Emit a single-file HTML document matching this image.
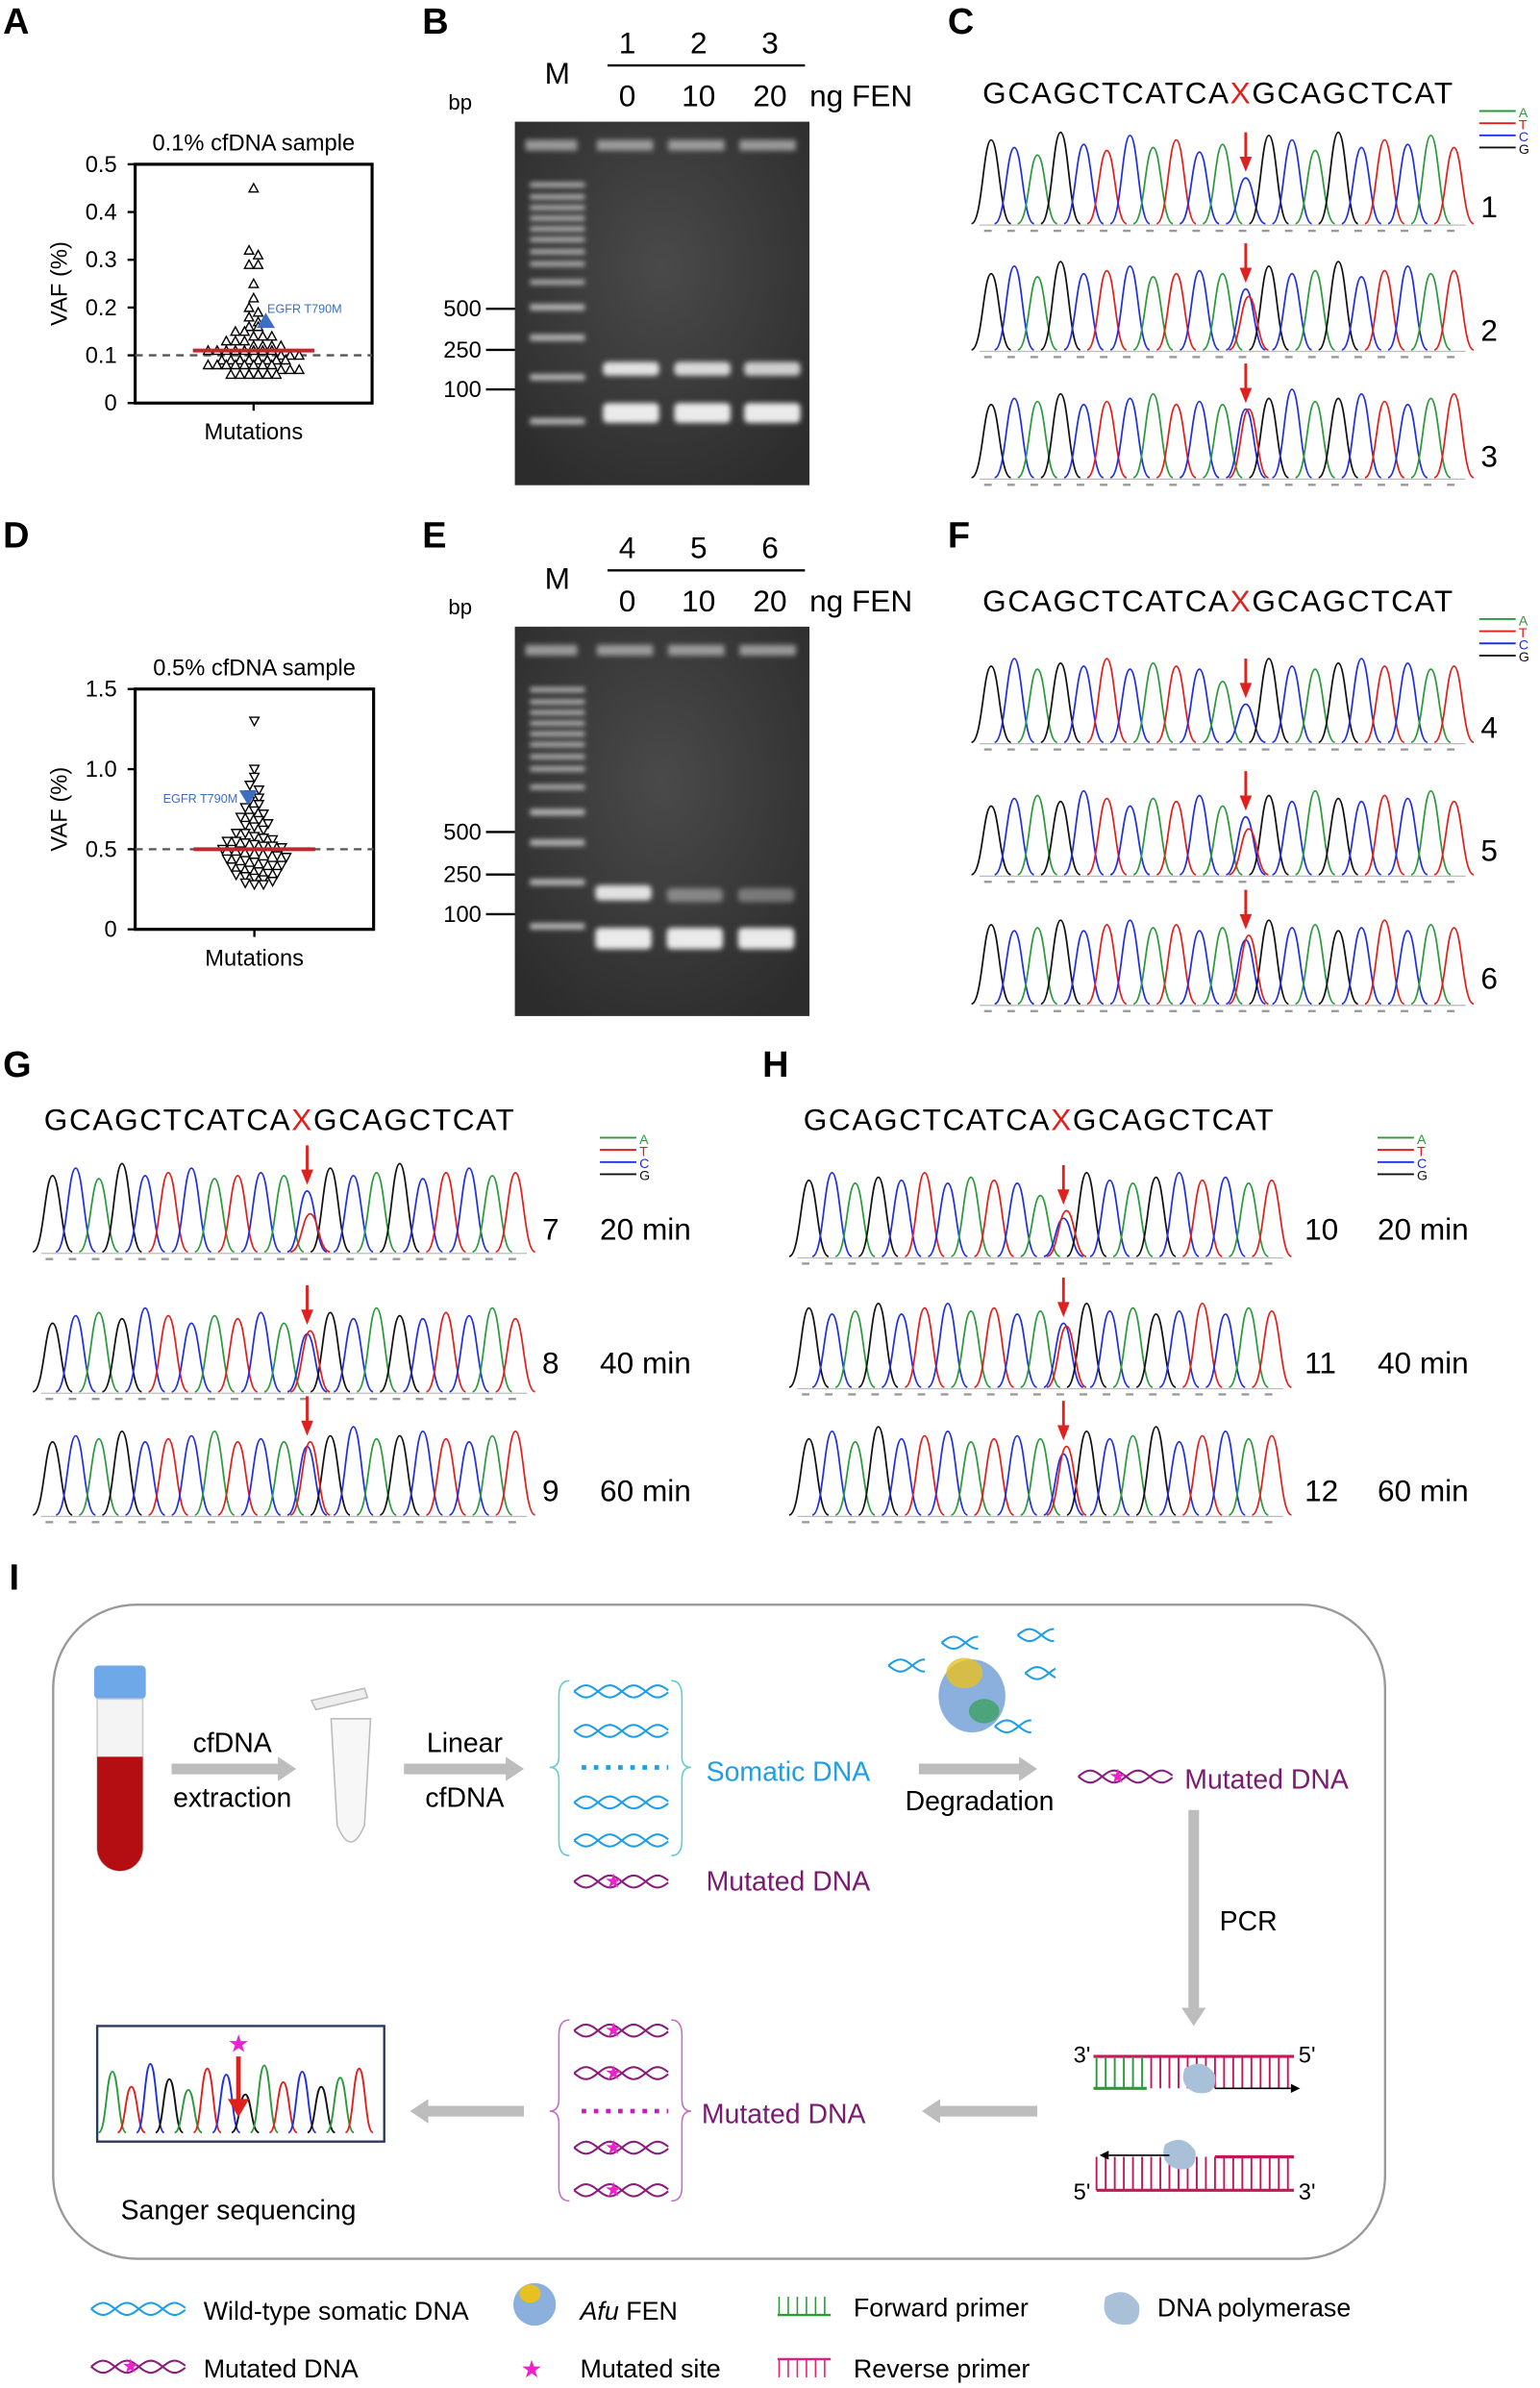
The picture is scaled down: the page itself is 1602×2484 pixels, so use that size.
<!DOCTYPE html>
<html><head><meta charset="utf-8"><style>
html,body{margin:0;padding:0;background:#fff;}
svg{display:block;font-family:"Liberation Sans",Arial,sans-serif;}
</style></head><body>
<svg id="fig" width="1602" height="2484" viewBox="0 0 1014 1570" preserveAspectRatio="none" xmlns="http://www.w3.org/2000/svg">
<defs>
<filter id="blur" x="-20%" y="-100%" width="140%" height="300%"><feGaussianBlur stdDeviation="1.6"/></filter>
<radialGradient id="gelglow" cx="50%" cy="40%" r="70%"><stop offset="0" stop-color="#4a4a4a"/><stop offset="1" stop-color="#2c2c2c"/></radialGradient>
</defs>
<g id="root"></g>
</svg>
<script>
// ---------- DATA ----------
const vafA = [0.45,0.32,0.31,0.29,0.29,0.25,0.22,0.20,0.19,0.18,0.17,0.16,0.16,0.15,0.15,0.14,0.14,0.14,0.13,0.13,0.13,0.12,0.12,0.12,0.12,0.11,0.11,0.11,0.11,0.11,0.11,0.11,0.11,0.10,0.10,0.10,0.10,0.10,0.10,0.10,0.10,0.09,0.09,0.09,0.09,0.09,0.09,0.09,0.09,0.08,0.08,0.08,0.08,0.08,0.08,0.08,0.08,0.07,0.07,0.07,0.07,0.07,0.07,0.06,0.06,0.06,0.06,0.06,0.06];
const highlightA = 0.17;
const medianA = 0.11;
const ticksA = [0,0.1,0.2,0.3,0.4,0.5];
const vafD = [1.30,1.00,0.95,0.90,0.87,0.84,0.82,0.80,0.78,0.76,0.74,0.72,0.70,0.70,0.68,0.66,0.65,0.64,0.62,0.60,0.60,0.58,0.57,0.56,0.55,0.55,0.54,0.53,0.52,0.52,0.51,0.50,0.50,0.49,0.48,0.48,0.47,0.46,0.45,0.44,0.44,0.43,0.42,0.41,0.40,0.40,0.39,0.38,0.37,0.36,0.35,0.35,0.34,0.33,0.32,0.31,0.30,0.29,0.28,0.28];
const highlightD = 0.82;
const medianD = 0.50;
const ticksD = [0,0.5,1.0,1.5];
const bases = "GCAGCTCATCAYGCAGCTCAT".split("");
const traceC1 = [55,50,45,60,52,48,58,50,55,47,52,30,58,55,48,60,50,55,52,58,50];
const traceC2 = [50,55,48,58,50,52,55,48,50,52,50,40,55,50,52,58,48,52,55,50,52];
const traceC3 = [48,52,50,55,48,50,52,55,48,50,48,45,52,58,50,52,55,50,48,52,55];
const traceF1 = [50,55,48,52,50,55,48,52,50,48,40,25,55,50,48,52,55,50,52,48,50];
const traceF2 = [45,50,52,48,55,50,45,50,48,52,45,38,52,48,55,50,48,52,50,55,48];
const traceF3 = [52,48,50,55,48,52,55,50,52,48,50,42,55,50,52,48,50,55,48,52,50];
const mutT = {C1:0,C2:35,C3:45,F1:0,F2:30,F3:45,G1:25,G2:40,G3:48,H1:30,H2:40,H3:45};

const NS="http://www.w3.org/2000/svg";
const root=document.getElementById('root');
function el(tag,attrs,parent,text){const e=document.createElementNS(NS,tag);for(const k in attrs)e.setAttribute(k,attrs[k]);if(text!==undefined)e.textContent=text;(parent||root).appendChild(e);return e;}
function txt(x,y,s,size,opts){opts=opts||{};const t=el('text',{x:x,y:y,'font-size':size,fill:opts.fill||'#000','text-anchor':opts.anchor||'start','font-weight':opts.weight||'normal','font-style':opts.style||'normal'},opts.parent,s);return t;}

[['A',2,22],['B',278,22],['C',624,22],['D',2,360],['E',278,360],['F',624,360],['G',2,708],['H',502,708],['I',6,1045]].forEach(p=>{txt(p[1],p[2],p[0],24,{weight:'bold',name:'panel-label-'+p[0].toLowerCase()});});

// ---------- scatter ----------
function scatter(cfg){
  const g=el('g',{});
  const y=v=>cfg.y0-(v-cfg.min)/(cfg.max-cfg.min)*(cfg.y0-cfg.y1);
  el('rect',{x:cfg.x0,y:cfg.y1,width:cfg.x1-cfg.x0,height:cfg.y0-cfg.y1,fill:'none',stroke:'#000','stroke-width':2},g);
  txt((cfg.x0+cfg.x1)/2,cfg.y1-9,cfg.title,15,{anchor:'middle',parent:g,name:'chart-title'});
  cfg.ticks.forEach(t=>{
    const yy=y(t);
    el('line',{x1:cfg.x0-5,x2:cfg.x0,y1:yy,y2:yy,stroke:'#000','stroke-width':1.5},g);
    txt(cfg.x0-12,yy+5,cfg.fmt(t),15,{anchor:'end',parent:g,name:'y-tick-label'});
  });
  const mx=(cfg.x0+cfg.x1)/2;
  el('line',{x1:mx,x2:mx,y1:cfg.y0,y2:cfg.y0+5,stroke:'#000','stroke-width':1.5},g);
  txt(mx,cfg.y0+24,'Mutations',15,{anchor:'middle',parent:g,name:'x-axis-label'});
  const yt=txt(0,0,'VAF (%)',15,{anchor:'middle',parent:g,name:'y-axis-title'});
  yt.setAttribute('transform',`translate(${cfg.x0-45},${(cfg.y0+cfg.y1)/2}) rotate(-90)`);
  el('line',{x1:cfg.x0,x2:cfg.x1,y1:y(cfg.dash),y2:y(cfg.dash),stroke:'#555','stroke-width':1.5,'stroke-dasharray':'5,4'},g);
  const rows={};
  cfg.data.forEach(v=>{const k=Math.round(y(v)/5.5);(rows[k]=rows[k]||[]).push(v);});
  Object.keys(rows).forEach(k=>{
    const arr=rows[k];
    const per=11;
    arr.forEach((v,i)=>{
      const sub=Math.floor(i/per), idx=i%per;
      const n=Math.min(per,arr.length-sub*per);
      const off=(idx-(n-1)/2)*6+(sub%2?3:0);
      const cx=mx+off, cy=y(v)+sub*3;
      const pts=cfg.up?`${cx},${cy-3} ${cx-3},${cy+2.5} ${cx+3},${cy+2.5}`:`${cx},${cy+3} ${cx-3},${cy-2.5} ${cx+3},${cy-2.5}`;
      const p=el('polygon',{points:pts,fill:'#fff',stroke:'#000','stroke-width':0.9},g);
      
    });
  });
  el('line',{x1:mx-40,x2:mx+40,y1:y(cfg.median),y2:y(cfg.median),stroke:'#c0282d','stroke-width':2.5},g);
  const hy=y(cfg.hl);
  const hp=el('polygon',{points:cfg.up?`${mx+8},${hy-6} ${mx+2},${hy+4} ${mx+14},${hy+4}`:`${mx-4},${hy+5} ${mx-10},${hy-5} ${mx+2},${hy-5}`,fill:'#3c6fc2'},g);
  
  txt(cfg.up?mx+9:mx-11,hy+(cfg.up?-6:3),'EGFR T790M',8,{anchor:cfg.up?'start':'end',fill:'#3c6fc2',parent:g,name:'highlight-label'});
}
scatter({name:'scatter-a',x0:89,x1:245,y0:265,y1:108,min:0,max:0.5,ticks:ticksA,fmt:t=>String(t),data:vafA,median:medianA,hl:highlightA,dash:0.1,title:'0.1% cfDNA sample',up:true});
scatter({name:'scatter-d',x0:89,x1:246,y0:611,y1:453,min:0,max:1.5,ticks:ticksD,fmt:t=>t===0?'0':t.toFixed(1),data:vafD,median:medianD,hl:highlightD,dash:0.5,title:'0.5% cfDNA sample',up:false});

// ---------- gels ----------
function gel(cfg){
  const g=el('g',{});
  const x0=339,x1=533,y0=cfg.y0,y1=cfg.y1;
  el('rect',{x:x0,y:y0,width:x1-x0,height:y1-y0,fill:'url(#gelglow)'},g);
  [[346,380],[393,430],[440,477],[487,524]].forEach(w=>el('rect',{x:w[0],y:y0+12,width:w[1]-w[0],height:7,fill:'#bbb',opacity:0.75,filter:'url(#blur)'},g));
  [20,28,35,42,49,56,64,72,84,100,120,146,175].forEach((d,i)=>el('rect',{x:349,y:y0+d+20,width:36,height:i<9?3:4,fill:'#ddd',opacity:0.8,filter:'url(#blur)'},g));
  cfg.bands.forEach(b=>el('rect',{x:b[0],y:b[1],width:37,height:b[2],fill:'#f4f4f4',opacity:b[3],rx:3,filter:'url(#blur)'},g));
  txt(367,cfg.y0-25,'M',20,{anchor:'middle',parent:g,name:'marker-label'});
  txt(303,cfg.y0-8,'bp',14,{anchor:'middle',parent:g,name:'bp-label'});
  el('line',{x1:400,x2:530,y1:cfg.y0-37,y2:cfg.y0-37,stroke:'#000','stroke-width':1.5},g);
  cfg.nums.forEach((n,i)=>{txt(413+i*47,cfg.y0-45,n,20,{anchor:'middle',parent:g,name:'lane-number'});txt(413+i*47,cfg.y0-10,['0','10','20'][i],20,{anchor:'middle',parent:g,name:'lane-amount'});});
  txt(533,cfg.y0-10,'ng FEN',20,{parent:g,name:'fen-label'});
  cfg.sizes.forEach(s=>{txt(317,s[1]+5,s[0],15,{anchor:'end',parent:g,name:'size-label'});el('line',{x1:320,x2:339,y1:s[1],y2:s[1],stroke:'#000','stroke-width':1.5},g);});
}
gel({name:'gel-b',y0:80,y1:319,nums:['1','2','3'],sizes:[['500',203],['250',230],['100',256]],bands:[[397,238,9,0.9],[444,238,9,0.85],[490,238,9,0.8],[397,265,13,0.95],[444,265,13,0.95],[490,265,13,0.95]]});
gel({name:'gel-e',y0:412,y1:668,nums:['4','5','6'],sizes:[['500',547],['250',575],['100',601]],bands:[[392,582,10,0.9],[439,584,9,0.4],[486,584,9,0.35],[392,610,14,0.95],[439,610,14,0.95],[486,610,14,0.95]]});

// ---------- chromatograms ----------
const colorOf={A:'#2a9a3a',T:'#e0201c',C:'#2030e0',G:'#111',Y:'#2030e0'};
function peak(g,cx,base,h,w,col){
  el('path',{d:`M${cx-w} ${base} C${cx-w*0.45} ${base},${cx-w*0.4} ${base-h},${cx} ${base-h} C${cx+w*0.4} ${base-h},${cx+w*0.45} ${base},${cx+w} ${base}`,fill:'none',stroke:col,'stroke-width':1.1},g);
}
function trace(name,x0,x1,base,heights,mut){
  const g=el('g',{});
  const step=(x1-x0)/bases.length;
  bases.forEach((b,i)=>{const cx=x0+step*(i+0.5);peak(g,cx,base,heights[i],step*0.85,colorOf[b]);});
  const cxm=x0+step*11.5;
  if(mut>0)peak(g,cxm+2,base,mut,step*0.85,colorOf.T);
  el('line',{x1:x0,x2:x1,y1:base+1,y2:base+1,stroke:'#bbb','stroke-width':0.8},g);
  for(let i=0;i<bases.length;i++)el('rect',{x:x0+step*i+3,y:base+4,width:5,height:1.5,fill:'#999'},g);
  const top=base-Math.max(heights[11],mut)-30;
  el('line',{x1:cxm,x2:cxm,y1:top,y2:top+18,stroke:'#e0201c','stroke-width':1.8},g);
  el('polygon',{points:`${cxm-4},${top+16} ${cxm+4},${top+16} ${cxm},${top+26}`,fill:'#e0201c'},g);
}
function seqHeader(x0,x1,y,lgX){
  const t=el('text',{x:x0,y:y,'font-size':20,'letter-spacing':'1.5'});
  
  el('tspan',{},t,'GCAGCTCATCA');el('tspan',{fill:'#e0201c'},t,'X');el('tspan',{},t,'GCAGCTCAT');
  t.setAttribute('textLength',x1-x0);
  const g=el('g',{});
  [['A','#2a9a3a'],['T','#e0201c'],['C','#2030e0'],['G','#111']].forEach((l,i)=>{const yy=y+5+i*8;el('line',{x1:lgX,x2:lgX+24,y1:yy,y2:yy,stroke:l[1],'stroke-width':1.2},g);txt(lgX+26,yy+4,l[0],9,{fill:l[1],parent:g,name:'legend-entry'});});
}
seqHeader(647,958,68,974);
seqHeader(647,958,402,974);
seqHeader(29,340,743,395);
seqHeader(529,840,743,907);
trace('trace-1',645,965,147,traceC1,mutT.C1);txt(975,143,'1',20,{name:'trace-number'});
trace('trace-2',645,965,230,traceC2,mutT.C2);txt(975,224,'2',20,{name:'trace-number'});
trace('trace-3',645,965,314,traceC3,mutT.C3);txt(975,307,'3',20,{name:'trace-number'});
trace('trace-4',645,965,488,traceF1,mutT.F1);txt(975,485,'4',20,{name:'trace-number'});
trace('trace-5',645,965,575,traceF2,mutT.F2);txt(975,566,'5',20,{name:'trace-number'});
trace('trace-6',645,965,660,traceF3,mutT.F3);txt(975,650,'6',20,{name:'trace-number'});
trace('trace-7',27,347,823,traceC2,mutT.G1);txt(357,815,'7',20,{name:'trace-number'});txt(395,815,'20 min',20,{name:'time-label'});
trace('trace-8',27,347,915,traceF2,mutT.G2);txt(357,903,'8',20,{name:'trace-number'});txt(395,903,'40 min',20,{name:'time-label'});
trace('trace-9',27,347,996,traceC3,mutT.G3);txt(357,987,'9',20,{name:'trace-number'});txt(395,987,'60 min',20,{name:'time-label'});
trace('trace-10',525,845,826,traceF1,mutT.H1);txt(859,815,'10',20,{name:'trace-number'});txt(907,815,'20 min',20,{name:'time-label'});
trace('trace-11',525,845,912,traceF3,mutT.H2);txt(859,903,'11',20,{name:'trace-number'});txt(907,903,'40 min',20,{name:'time-label'});
trace('trace-12',525,845,996,traceC2,mutT.H3);txt(859,987,'12',20,{name:'trace-number'});txt(907,987,'60 min',20,{name:'time-label'});

// ---------- panel I ----------
const I=el('g',{});
el('rect',{x:35,y:1055,width:877,height:430,rx:55,fill:'#fff',stroke:'#999','stroke-width':1.5},I);
function garrow(x1,y1,x2,y2){
  const dx=x2-x1,dy=y2-y1,L=Math.hypot(dx,dy),ux=dx/L,uy=dy/L,px=-uy,py=ux;
  const hx=x2-ux*12,hy=y2-uy*12;
  const a=el('polygon',{points:`${x1+px*3.5},${y1+py*3.5} ${hx+px*3.5},${hy+py*3.5} ${hx+px*8},${hy+py*8} ${x2},${y2} ${hx-px*8},${hy-py*8} ${hx-px*3.5},${hy-py*3.5} ${x1-px*3.5},${y1-py*3.5}`,fill:'#bdbdbd'},I);
  
}
function wave(x,y,w,col,star){
  let d=`M${x} ${y}`,d2=`M${x} ${y}`;
  for(let i=0;i<=w;i+=2){d+=` L${x+i} ${y+4*Math.sin(i/5)}`;d2+=` L${x+i} ${y-4*Math.sin(i/5)}`;}
  el('path',{d:d,fill:'none',stroke:col,'stroke-width':1.3},I);el('path',{d:d2,fill:'none',stroke:col,'stroke-width':1.3},I);
  if(star)txt(x+w/2-5,y+4,'★',13,{fill:'#ee22cc',anchor:'middle',parent:I,name:'mutated-site-star'});
}
el('rect',{x:62,y:1095,width:34,height:22,fill:'#6fa8e8',rx:3},I);
el('path',{d:'M64 1117 L64 1215 A15 15 0 0 0 94 1215 L94 1117 Z',fill:'#f4f4f4',stroke:'#ccc'},I);
el('path',{d:'M64 1155 L64 1215 A15 15 0 0 0 94 1215 L94 1155 Z',fill:'#b40d12'},I);
garrow(113,1163,195,1163);
txt(153,1152,'cfDNA',18,{anchor:'middle',parent:I});txt(153,1188,'extraction',18,{anchor:'middle',parent:I});
el('path',{d:'M218 1130 L244 1130 L240 1200 Q231 1222 222 1200 Z',fill:'#f7f7f7',stroke:'#bbb'},I);
el('path',{d:'M205 1118 L240 1110 L242 1116 L208 1124 Z',fill:'#eee',stroke:'#bbb'},I);
garrow(266,1163,345,1163);
txt(306,1152,'Linear',18,{anchor:'middle',parent:I});txt(306,1188,'cfDNA',18,{anchor:'middle',parent:I});
[1112,1138,1185,1210].forEach(y=>wave(378,y,62,'#1f9ee8'));
el('line',{x1:383,x2:440,y1:1162,y2:1162,stroke:'#1f9ee8','stroke-width':3,'stroke-dasharray':'3,5'},I);
el('path',{d:'M375 1105 Q368 1105 368 1115 L368 1155 Q368 1162 362 1162 Q368 1162 368 1170 L368 1210 Q368 1220 375 1220',fill:'none',stroke:'#6cc'},I);
el('path',{d:'M442 1105 Q449 1105 449 1115 L449 1155 Q449 1162 455 1162 Q449 1162 449 1170 L449 1210 Q449 1220 442 1220',fill:'none',stroke:'#6cc'},I);
txt(465,1171,'Somatic DNA',18,{fill:'#1f9ee8',parent:I});
wave(378,1237,62,'#8a1c7c',true);txt(465,1243,'Mutated DNA',18,{fill:'#7a1a70',parent:I});
el('ellipse',{cx:640,cy:1115,rx:22,ry:24,fill:'#5a8fd0',opacity:0.7},I);
el('ellipse',{cx:635,cy:1100,rx:12,ry:10,fill:'#e8c020',opacity:0.8},I);
el('ellipse',{cx:648,cy:1125,rx:10,ry:8,fill:'#30a050',opacity:0.7},I);
wave(585,1095,25,'#1f9ee8');wave(620,1080,25,'#1f9ee8');wave(670,1075,25,'#1f9ee8');wave(675,1100,20,'#1f9ee8');wave(655,1135,25,'#1f9ee8');
garrow(605,1163,683,1163);
txt(645,1190,'Degradation',18,{anchor:'middle',parent:I});
wave(710,1168,62,'#8a1c7c',true);txt(780,1176,'Mutated DNA',18,{fill:'#7a1a70',parent:I});
garrow(786,1190,786,1332);txt(822,1269,'PCR',18,{anchor:'middle',parent:I});
el('line',{x1:720,x2:852,y1:1352,y2:1352,stroke:'#c0185a','stroke-width':2},I);
for(let x=722;x<852;x+=6)el('line',{x1:x,x2:x,y1:1352,y2:1373,stroke:x<755?'#2a9a3a':'#c0185a','stroke-width':1.2},I);
el('line',{x1:720,x2:755,y1:1373,y2:1373,stroke:'#2a9a3a','stroke-width':2},I);
el('path',{d:'M780 1360 q12 -8 20 4 q2 14 -12 12 q-12 -4 -8 -16 Z',fill:'#a8c0d8'},I);
el('line',{x1:800,x2:850,y1:1373,y2:1373,stroke:'#000'},I);el('polygon',{points:'850,1370 856,1373 850,1376'},I);
txt(718,1356,"3'",15,{anchor:'end',parent:I});txt(855,1356,"5'",15,{parent:I});
el('line',{x1:722,x2:852,y1:1440,y2:1440,stroke:'#c0185a','stroke-width':2},I);
for(let x=722;x<852;x+=6)el('line',{x1:x,x2:x,y1:1418,y2:1440,stroke:'#c0185a','stroke-width':1.2},I);
el('line',{x1:800,x2:852,y1:1418,y2:1418,stroke:'#c0185a','stroke-width':2},I);
el('path',{d:'M767 1410 q12 -8 20 4 q2 14 -12 12 q-12 -4 -8 -16 Z',fill:'#a8c0d8'},I);
el('line',{x1:730,x2:770,y1:1417,y2:1417,stroke:'#000'},I);el('polygon',{points:'730,1414 724,1417 730,1420'},I);
txt(718,1446,"5'",15,{anchor:'end',parent:I});txt(855,1446,"3'",15,{parent:I});
garrow(683,1388,607,1388);
[1335,1363,1412,1440].forEach(y=>wave(378,y,62,'#8a1c7c',true));
el('line',{x1:383,x2:440,y1:1388,y2:1388,stroke:'#c020c0','stroke-width':3,'stroke-dasharray':'3,5'},I);
el('path',{d:'M375 1328 Q368 1328 368 1338 L368 1380 Q368 1388 362 1388 Q368 1388 368 1396 L368 1438 Q368 1447 375 1447',fill:'none',stroke:'#c070c0'},I);
el('path',{d:'M442 1328 Q449 1328 449 1338 L449 1380 Q449 1388 455 1388 Q449 1388 449 1396 L449 1438 Q449 1447 442 1447',fill:'none',stroke:'#c070c0'},I);
txt(462,1396,'Mutated DNA',18,{fill:'#7a1a70',parent:I});
garrow(345,1388,270,1388);
el('rect',{x:64,y:1332,width:189,height:76,fill:'#fff',stroke:'#2a3a5a','stroke-width':1.5},I);
const cols=['#2a9a3a','#e0201c','#2030e0','#111'];
for(let i=0;i<14;i++){const cx=74+i*12.5;const h=[40,30,45,35,28,42,38,25,44,33,40,30,36,42][i];el('path',{d:`M${cx-9} 1402 C${cx-4} 1402,${cx-4} ${1402-h},${cx} ${1402-h} C${cx+4} ${1402-h},${cx+4} 1402,${cx+9} 1402`,fill:'none',stroke:cols[i%4],'stroke-width':1.2},I);}
el('line',{x1:157,x2:157,y1:1352,y2:1382,stroke:'#e0201c','stroke-width':3},I);el('polygon',{points:'150,1380 164,1380 157,1392',fill:'#e0201c'},I);
txt(157,1349,'★',16,{fill:'#ee22cc',anchor:'middle',parent:I,name:'mutated-site-star'});
txt(157,1459,'Sanger sequencing',18,{anchor:'middle',parent:I});
const L=el('g',{});
wave(60,1518,62,'#1f9ee8');txt(134,1525,'Wild-type somatic DNA',17,{parent:L,name:'legend-entry'});
wave(60,1556,62,'#8a1c7c',true);txt(134,1563,'Mutated DNA',17,{parent:L,name:'legend-entry'});
el('ellipse',{cx:352,cy:1515,rx:14,ry:14,fill:'#5a8fd0',opacity:0.7},L);el('ellipse',{cx:349,cy:1508,rx:7,ry:6,fill:'#e8c020'},L);
const af=txt(382,1525,'',17,{parent:L,name:'legend-entry'});el('tspan',{'font-style':'italic'},af,'Afu');el('tspan',{},af,' FEN');
txt(350,1563,'★',16,{fill:'#ee22cc',anchor:'middle',parent:L,name:'legend-star'});txt(382,1563,'Mutated site',17,{parent:L,name:'legend-entry'});
el('line',{x1:512,x2:547,y1:1522,y2:1522,stroke:'#2a9a3a','stroke-width':1.5},L);for(let x=513;x<548;x+=6)el('line',{x1:x,x2:x,y1:1510,y2:1522,stroke:'#2a9a3a'},L);
txt(562,1523,'Forward primer',17,{parent:L,name:'legend-entry'});
el('line',{x1:512,x2:547,y1:1551,y2:1551,stroke:'#e0207a','stroke-width':1.5},L);for(let x=513;x<548;x+=6)el('line',{x1:x,x2:x,y1:1551,y2:1563,stroke:'#e0207a'},L);
txt(562,1563,'Reverse primer',17,{parent:L,name:'legend-entry'});
el('path',{d:'M728 1510 q14 -8 22 5 q2 16 -14 13 q-12 -4 -8 -18 Z',fill:'#a8c0d8'},L);
txt(762,1523,'DNA polymerase',17,{parent:L,name:'legend-entry'});
</script>
</body></html>
